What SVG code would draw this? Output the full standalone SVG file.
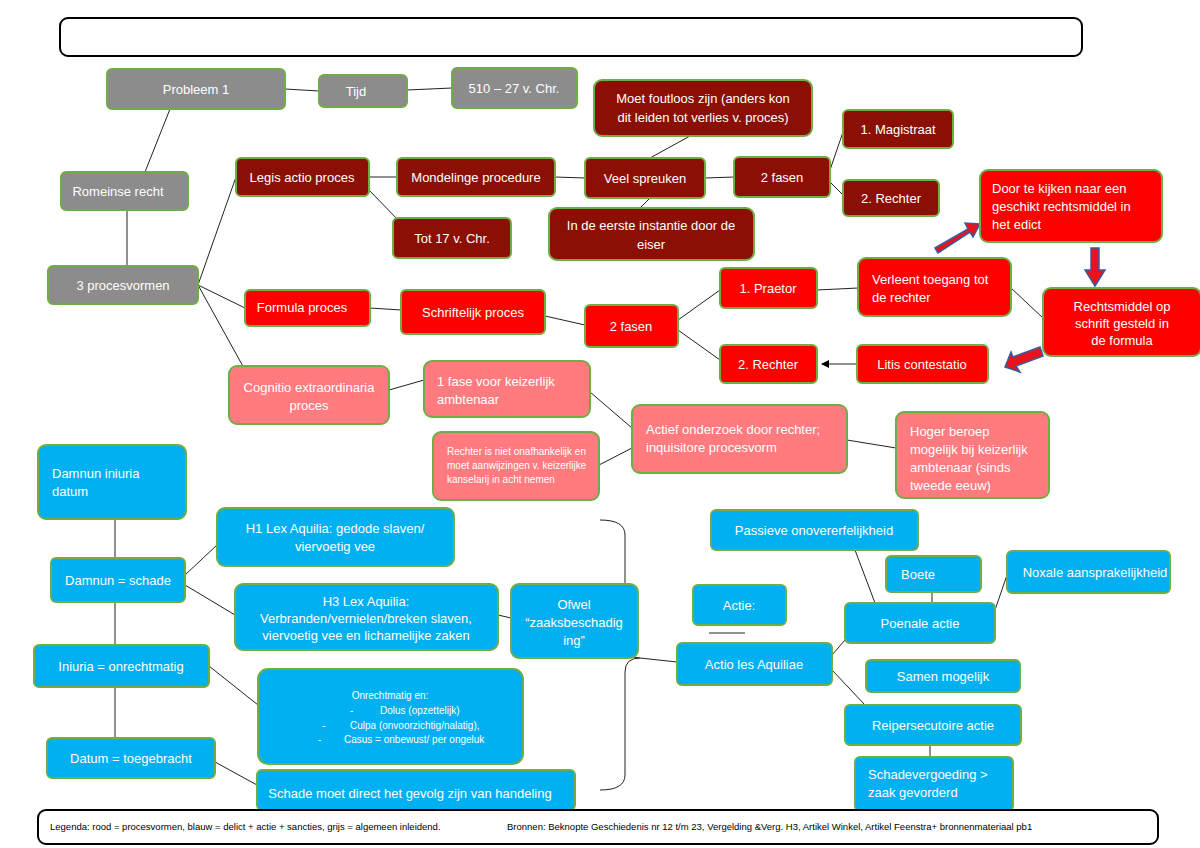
<svg xmlns="http://www.w3.org/2000/svg" width="1200" height="848" viewBox="0 0 1200 848">
<defs>
<style>
text{font-family:"Liberation Sans",Arial,sans-serif;fill:#fff;font-size:13px}
.n rect{stroke:#71ad47;stroke-width:2}
.g rect{fill:#8c8c8c}.d rect{fill:#8b0f04}.r rect{fill:#fe0000}.s rect{fill:#ff7b7f}.b rect{fill:#00b0f0}
.c line,.c path{stroke:#222;stroke-width:1;fill:none}
.fat{fill:#e8141b;stroke:#3a5a9e;stroke-width:1.5}
</style>
<marker id="ah" markerWidth="8" markerHeight="8" refX="7" refY="4" orient="auto"><path d="M0,0 L8,4 L0,8 z" fill="#000"/></marker>
</defs>
<rect width="1200" height="848" fill="#fff"/>
<rect x="60" y="18" width="1022" height="38" rx="8" fill="none" stroke="#000" stroke-width="2"/>
<g class="c" id="connectors">
<line x1="285" y1="89" x2="319" y2="91"/><line x1="407" y1="90" x2="452" y2="88"/>
<line x1="170" y1="109" x2="145" y2="172"/><line x1="127" y1="210" x2="127" y2="266"/>
<line x1="198" y1="285" x2="236" y2="177"/><line x1="198" y1="285" x2="245" y2="308"/><line x1="198" y1="285" x2="245" y2="370"/>
<line x1="369" y1="177" x2="397" y2="177"/><line x1="369" y1="190" x2="400" y2="222"/>
<line x1="555" y1="177" x2="585" y2="178"/><line x1="650" y1="158" x2="690" y2="136"/><line x1="650" y1="198" x2="640" y2="208"/>
<line x1="705" y1="178" x2="734" y2="177"/><line x1="830" y1="170" x2="843" y2="132"/><line x1="830" y1="182" x2="843" y2="195"/>
<line x1="370" y1="308" x2="401" y2="310"/><line x1="545" y1="316" x2="585" y2="325"/>
<line x1="678" y1="320" x2="720" y2="290"/><line x1="678" y1="330" x2="720" y2="360"/>
<line x1="817" y1="290" x2="858" y2="288"/><line x1="1011" y1="288" x2="1043" y2="318"/>
<line x1="389" y1="390" x2="424" y2="380"/><line x1="590" y1="392" x2="632" y2="428"/><line x1="599" y1="465" x2="632" y2="448"/><line x1="847" y1="440" x2="896" y2="448"/>
<line x1="115" y1="519" x2="115" y2="558"/><line x1="115" y1="602" x2="115" y2="645"/><line x1="115" y1="687" x2="115" y2="738"/>
<line x1="185" y1="575" x2="217" y2="545"/><line x1="185" y1="585" x2="235" y2="615"/><line x1="498" y1="615" x2="511" y2="618"/>
<line x1="209" y1="666" x2="258" y2="705"/><line x1="215" y1="762" x2="257" y2="785"/>
<path d="M600,520 Q625,520 625,535 L625,645 Q625,658 640,658 Q625,658 625,672 L625,775 Q625,790 600,790"/>
<line x1="640" y1="658" x2="677" y2="662"/>
<line x1="709" y1="633" x2="745" y2="633"/>
<line x1="855" y1="550" x2="875" y2="603"/><line x1="932" y1="592" x2="932" y2="603"/><line x1="1007" y1="575" x2="995" y2="610"/>
<line x1="832" y1="655" x2="845" y2="640"/><line x1="832" y1="670" x2="865" y2="705"/><line x1="930" y1="745" x2="930" y2="757"/>
<line x1="857" y1="364" x2="822" y2="364" marker-end="url(#ah)"/>
</g>
<path class="fat" d="M935,248 L968,229 L965,223 L980,224 L973,237 L970,232 L938,253 z"/>
<path class="fat" d="M1091,248 L1099,248 L1099,270 L1105,270 L1095,286 L1085,270 L1091,270 z"/>
<path class="fat" d="M1040,347 L1013,357 L1011,352 L1005,367 L1020,372 L1016,366 L1043,356 z"/>
<g class="n g" id="n1"><rect x="107" y="69" width="178" height="40" rx="5"/><text x="196" y="94" text-anchor="middle">Probleem 1</text></g>
<g class="n g" id="n2"><rect x="319" y="75" width="88" height="32" rx="5"/><text x="356" y="96" text-anchor="middle">Tijd</text></g>
<g class="n g" id="n3"><rect x="452" y="68" width="125" height="40" rx="5"/><text x="514" y="93" text-anchor="middle">510 – 27 v. Chr.</text></g>
<g class="n g" id="n4"><rect x="61" y="172" width="127" height="38" rx="5"/><text x="118" y="196" text-anchor="middle">Romeinse recht</text></g>
<g class="n g" id="n5"><rect x="48" y="266" width="150" height="38" rx="5"/><text x="123" y="290" text-anchor="middle">3 procesvormen</text></g>
<g class="n d" id="n6"><rect x="236" y="158" width="133" height="38" rx="5"/><text x="302" y="182" text-anchor="middle">Legis actio proces</text></g>
<g class="n d" id="n7"><rect x="397" y="158" width="158" height="38" rx="5"/><text x="476" y="182" text-anchor="middle">Mondelinge procedure</text></g>
<g class="n d" id="n8"><rect x="585" y="158" width="120" height="40" rx="5"/><text x="645" y="183" text-anchor="middle">Veel spreuken</text></g>
<g class="n d" id="n9"><rect x="594" y="80" width="218" height="56" rx="8"/><text x="703" y="103" text-anchor="middle">Moet foutloos zijn (anders kon</text><text x="703" y="122" text-anchor="middle">dit leiden tot verlies v. proces)</text></g>
<g class="n d" id="n10"><rect x="549" y="208" width="205" height="52" rx="8"/><text x="651" y="230" text-anchor="middle">In de eerste instantie door de</text><text x="651" y="249" text-anchor="middle">eiser</text></g>
<g class="n d" id="n11"><rect x="393" y="218" width="118" height="40" rx="5"/><text x="452" y="243" text-anchor="middle">Tot 17 v. Chr.</text></g>
<g class="n d" id="n12"><rect x="734" y="157" width="96" height="40" rx="5"/><text x="782" y="182" text-anchor="middle">2 fasen</text></g>
<g class="n d" id="n13"><rect x="843" y="110" width="110" height="38" rx="5"/><text x="898" y="134" text-anchor="middle">1. Magistraat</text></g>
<g class="n d" id="n14"><rect x="843" y="180" width="96" height="36" rx="5"/><text x="891" y="203" text-anchor="middle">2. Rechter</text></g>
<g class="n r" id="n15"><rect x="245" y="290" width="125" height="36" rx="5"/><text x="302" y="312" text-anchor="middle">Formula proces</text></g>
<g class="n r" id="n16"><rect x="401" y="290" width="144" height="44" rx="5"/><text x="473" y="317" text-anchor="middle">Schriftelijk proces</text></g>
<g class="n r" id="n17"><rect x="585" y="305" width="93" height="42" rx="5"/><text x="631" y="331" text-anchor="middle">2 fasen</text></g>
<g class="n r" id="n18"><rect x="720" y="268" width="97" height="40" rx="5"/><text x="768" y="293" text-anchor="middle">1. Praetor</text></g>
<g class="n r" id="n19"><rect x="720" y="345" width="97" height="38" rx="5"/><text x="768" y="369" text-anchor="middle">2. Rechter</text></g>
<g class="n r" id="n20"><rect x="858" y="258" width="153" height="58" rx="8"/><text x="872" y="284">Verleent toegang tot</text><text x="872" y="302">de rechter</text></g>
<g class="n r" id="n21"><rect x="980" y="170" width="182" height="72" rx="8"/><text x="992" y="193">Door te kijken naar een</text><text x="992" y="211">geschikt rechtsmiddel in</text><text x="992" y="229">het edict</text></g>
<g class="n r" id="n22"><rect x="1043" y="288" width="158" height="68" rx="8"/><text x="1122" y="311" text-anchor="middle">Rechtsmiddel op</text><text x="1122" y="328" text-anchor="middle">schrift gesteld in</text><text x="1122" y="345" text-anchor="middle">de formula</text></g>
<g class="n r" id="n23"><rect x="857" y="345" width="131" height="38" rx="5"/><text x="922" y="369" text-anchor="middle">Litis contestatio</text></g>
<g class="n s" id="n24"><rect x="229" y="366" width="160" height="58" rx="8"/><text x="309" y="392" text-anchor="middle">Cognitio extraordinaria</text><text x="309" y="410" text-anchor="middle">proces</text></g>
<g class="n s" id="n25"><rect x="424" y="361" width="166" height="56" rx="8"/><text x="437" y="386">1 fase voor keizerlijk</text><text x="437" y="404">ambtenaar</text></g>
<g class="n s" id="n26"><rect x="632" y="405" width="215" height="68" rx="8"/><text x="646" y="434">Actief onderzoek door rechter;</text><text x="646" y="452">inquisitore procesvorm</text></g>
<g class="n s" id="n27"><rect x="433" y="432" width="166" height="68" rx="8"/><text x="447" y="455" style="font-size:10px">Rechter is niet onafhankelijk en</text><text x="447" y="469" style="font-size:10px">moet aanwijzingen v. keizerlijke</text><text x="447" y="483" style="font-size:10px">kanselarij in acht nemen</text></g>
<g class="n s" id="n28"><rect x="896" y="412" width="153" height="86" rx="8"/><text x="910" y="436">Hoger beroep</text><text x="910" y="454">mogelijk bij keizerlijk</text><text x="910" y="472">ambtenaar (sinds</text><text x="910" y="490">tweede eeuw)</text></g>
<g class="n b" id="n29"><rect x="38" y="445" width="148" height="74" rx="8"/><text x="52" y="478">Damnun iniuria</text><text x="52" y="496">datum</text></g>
<g class="n b" id="n30"><rect x="51" y="558" width="134" height="44" rx="5"/><text x="118" y="585" text-anchor="middle">Damnun = schade</text></g>
<g class="n b" id="n31"><rect x="217" y="508" width="237" height="58" rx="8"/><text x="335" y="533" text-anchor="middle">H1 Lex Aquilia: gedode slaven/</text><text x="335" y="551" text-anchor="middle">viervoetig vee</text></g>
<g class="n b" id="n32"><rect x="235" y="584" width="263" height="66" rx="8"/><text x="366" y="606" text-anchor="middle">H3 Lex Aquilia:</text><text x="366" y="623" text-anchor="middle">Verbranden/vernielen/breken slaven,</text><text x="366" y="640" text-anchor="middle">viervoetig vee en lichamelijke zaken</text></g>
<g class="n b" id="n33"><rect x="511" y="584" width="127" height="74" rx="8"/><text x="574" y="609" text-anchor="middle">Ofwel</text><text x="574" y="627" text-anchor="middle">“zaaksbeschadig</text><text x="574" y="645" text-anchor="middle">ing”</text></g>
<g class="n b" id="n34"><rect x="34" y="645" width="175" height="42" rx="5"/><text x="121" y="671" text-anchor="middle">Iniuria = onrechtmatig</text></g>
<g class="n b" id="n35"><rect x="258" y="669" width="265" height="95" rx="10"/><text x="390" y="699" text-anchor="middle" style="font-size:10px">Onrechtmatig en:</text><text x="350" y="714" style="font-size:10px">-</text><text x="380" y="714" style="font-size:10px">Dolus (opzettelijk)</text><text x="322" y="729" style="font-size:10px">-</text><text x="350" y="729" style="font-size:10px">Culpa (onvoorzichtig/nalatig),</text><text x="318" y="743" style="font-size:10px">-</text><text x="344" y="743" style="font-size:10px">Casus = onbewust/ per ongeluk</text></g>
<g class="n b" id="n36"><rect x="47" y="738" width="168" height="40" rx="5"/><text x="131" y="763" text-anchor="middle">Datum = toegebracht</text></g>
<g class="n b" id="n37"><rect x="257" y="770" width="318" height="40" rx="5"/><text x="410" y="798" text-anchor="middle">Schade moet direct het gevolg zijn van handeling</text></g>
<g class="n b" id="n38"><rect x="693" y="585" width="93" height="40" rx="5"/><text x="739" y="610" text-anchor="middle">Actie:</text></g>
<g class="n b" id="n39"><rect x="677" y="643" width="155" height="42" rx="5"/><text x="754" y="669" text-anchor="middle">Actio les Aquiliae</text></g>
<g class="n b" id="n40"><rect x="711" y="510" width="207" height="40" rx="5"/><text x="814" y="535" text-anchor="middle">Passieve onovererfelijkheid</text></g>
<g class="n b" id="n41"><rect x="886" y="556" width="95" height="36" rx="5"/><text x="918" y="579" text-anchor="middle">Boete</text></g>
<g class="n b" id="n42"><rect x="1007" y="551" width="163" height="42" rx="5"/><text x="1095" y="577" text-anchor="middle">Noxale aansprakelijkheid</text></g>
<g class="n b" id="n43"><rect x="845" y="603" width="150" height="40" rx="5"/><text x="920" y="628" text-anchor="middle">Poenale actie</text></g>
<g class="n b" id="n44"><rect x="866" y="660" width="154" height="32" rx="5"/><text x="943" y="681" text-anchor="middle">Samen mogelijk</text></g>
<g class="n b" id="n45"><rect x="845" y="705" width="176" height="40" rx="5"/><text x="933" y="730" text-anchor="middle">Reipersecutoire actie</text></g>
<g class="n b" id="n46"><rect x="855" y="757" width="158" height="54" rx="5"/><text x="868" y="779">Schadevergoeding &gt;</text><text x="868" y="797">zaak gevorderd</text></g>
<g id="legend"><rect x="38" y="810" width="1120" height="34" rx="8" fill="#fff" stroke="#000" stroke-width="2"/><text x="50" y="830" style="fill:#000;font-size:9.5px">Legenda: rood = procesvormen, blauw = delict + actie + sancties, grijs = algemeen inleidend.</text><text x="507" y="830" style="fill:#000;font-size:9.5px">Bronnen: Beknopte Geschiedenis nr 12 t/m 23, Vergelding &amp;Verg. H3, Artikel Winkel, Artikel Feenstra+ bronnenmateriaal pb1</text></g>
</svg>
